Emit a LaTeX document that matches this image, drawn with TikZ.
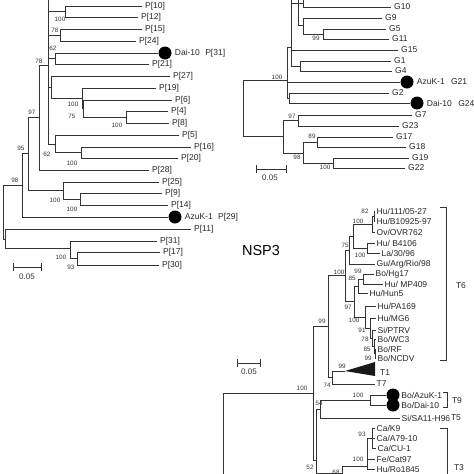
\documentclass[tikz,border=0pt]{standalone}
\usepackage{fontspec}
\setmainfont{Liberation Sans}
\usetikzlibrary{arrows,positioning}

\tikzset{
  br/.style={draw=black!80, line width=0.9pt},
  leaf/.style={anchor=west, inner sep=3pt, text=black!85, font=\fontsize{8.5}{9}\selectfont},
  nleaf/.style={leaf, inner sep=1.5pt},
  bs/.style={inner sep=0pt, text=black!80, font=\fontsize{6.3}{6.3}\selectfont},
  dot/.style={circle, fill=black, inner sep=0pt, minimum size=13pt},
  clade/.style={inner sep=0pt, text=black!85, font=\fontsize{8.5}{9}\selectfont},
  scalelbl/.style={inner sep=0pt, text=black!80, font=\fontsize{8}{8}\selectfont},
}

\begin{document}
\begin{tikzpicture}[x=1pt,y=-1pt]
\useasboundingbox (0,0) rectangle (474,474);

% VP4 tree (P types)
\coordinate (pRoot) at (3,212);
\coordinate (pC) at (5,239);
\coordinate (p95) at (22,185);
\coordinate (p97) at (28,153);
\coordinate (p78) at (39,117);
\coordinate (pA) at (48,65);
\coordinate (pAtop) at (48,0);
\coordinate (pB) at (51,87);
\coordinate (n100a) at (65,11);
\coordinate (n78a) at (60,35);
\coordinate (n62a) at (55,58);
\coordinate (n19) at (82,98);
\coordinate (n100b) at (83.5,108);
\coordinate (n100c) at (126,117);
\coordinate (n62b) at (55,144);
\coordinate (n100d) at (81,152);
\coordinate (n100e) at (63,190);
\coordinate (n100f) at (80,199);
\coordinate (n100g) at (70,248);
\coordinate (n93) at (77,258);

\node[leaf] (p10) at (142,6) {P[10]};
\node[leaf] (p12) at (138,17) {P[12]};
\node[leaf] (p15) at (142,29) {P[15]};
\node[leaf] (p24) at (136,41) {P[24]};
\node[dot] (dPdai) at (165,53) {};
\node[leaf, right=0pt of dPdai] (lPdai) {Dai-10\hspace{3pt} P[31]};
\node[leaf] (p21) at (149,64) {P[21]};
\node[leaf] (p27) at (170,76) {P[27]};
\node[leaf] (p19) at (156,88) {P[19]};
\node[leaf] (p6) at (172,100) {P[6]};
\node[leaf] (p4) at (168,111) {P[4]};
\node[leaf] (p8) at (169,123) {P[8]};
\node[leaf] (p5) at (179,135) {P[5]};
\node[leaf] (p16) at (191,147) {P[16]};
\node[leaf] (p20) at (178,158) {P[20]};
\node[leaf] (p28) at (149,170) {P[28]};
\node[leaf] (p25) at (159,182) {P[25]};
\node[leaf] (p9) at (162,193) {P[9]};
\node[leaf] (p14) at (168,205) {P[14]};
\node[dot] (dPazu) at (175,217) {};
\node[leaf, right=0pt of dPazu] (lPazu) {AzuK-1\hspace{3pt} P[29]};
\node[leaf] (p11) at (191,229) {P[11]};
\node[leaf] (p31) at (157,241) {P[31]};
\node[leaf] (p17) at (160,252) {P[17]};
\node[leaf] (p30) at (159,265) {P[30]};

\draw[br] (pRoot) |- (p95);
\draw[br] (pRoot) |- (pC);
\draw[br] (pC) |- (p11.west);
\draw[br] (pC) |- (n100g);
\draw[br] (n100g) |- (p31.west);
\draw[br] (n100g) |- (n93);
\draw[br] (n93) |- (p17.west);
\draw[br] (n93) |- (p30.west);
\draw[br] (p95) |- (p97);
\draw[br] (p95) |- (dPazu);
\draw[br] (p97) |- (p78);
\draw[br] (p97) |- (n100e);
\draw[br] (n100e) |- (p25.west);
\draw[br] (n100e) |- (n100f);
\draw[br] (n100f) |- (p9.west);
\draw[br] (n100f) |- (p14.west);
\draw[br] (p78) |- (pA);
\draw[br] (p78) |- (p28.west);
\draw[br] (pA) -- (pAtop);
\draw[br] (pA) |- (n100a);
\draw[br] (pA) |- (n78a);
\draw[br] (pA) |- (n62a);
\draw[br] (pA) |- (pB);
\draw[br] (pA) |- (n62b);
\draw[br] (n100a) |- (p10.west);
\draw[br] (n100a) |- (p12.west);
\draw[br] (n78a) |- (p15.west);
\draw[br] (n78a) |- (p24.west);
\draw[br] (n62a) |- (dPdai);
\draw[br] (n62a) |- (p21.west);
\draw[br] (pB) |- (p27.west);
\draw[br] (pB) |- (n19);
\draw[br] (n19) |- (p19.west);
\draw[br] (n19) |- (n100b);
\draw[br] (n100b) |- (p6.west);
\draw[br] (n100b) |- (n100c);
\draw[br] (n100c) |- (p4.west);
\draw[br] (n100c) |- (p8.west);
\draw[br] (n62b) |- (p5.west);
\draw[br] (n62b) |- (n100d);
\draw[br] (n100d) |- (p16.west);
\draw[br] (n100d) |- (p20.west);

\node[bs] (bP1) at (60,19) {100};
\node[bs] (bP2) at (55,30) {78};
\node[bs] (bP3) at (53,48) {62};
\node[bs] (bP4) at (39,61) {78};
\node[bs] (bP5) at (73,104) {100};
\node[bs] (bP6) at (72,116) {75};
\node[bs] (bP7) at (117,125) {100};
\node[bs] (bP8) at (32,112) {97};
\node[bs] (bP9) at (47,154) {62};
\node[bs] (bP10) at (72,163) {100};
\node[bs] (bP11) at (21,148) {95};
\node[bs] (bP12) at (15,180) {98};
\node[bs] (bP13) at (55,200) {100};
\node[bs] (bP14) at (72,209) {100};
\node[bs] (bP15) at (61,257) {100};
\node[bs] (bP16) at (71,267) {93};

\coordinate (sPa) at (13,267);
\coordinate (sPb) at (42,267);
\draw[br, |-|] (sPa) -- (sPb);
\node[scalelbl] (sPl) at (27,277) {0.05};

% VP7 tree (G types)
\coordinate (gRoot) at (243,108);
\coordinate (gE) at (287,80);
\coordinate (gA) at (291,47);
\coordinate (gAtop) at (291,0);
\coordinate (gB) at (298,3);
\coordinate (gBtop) at (298,0);
\coordinate (gD) at (303,3);
\coordinate (gDtop) at (303,0);
\coordinate (gC) at (303,25);
\coordinate (n99) at (323,34);
\coordinate (n14) at (300,66);
\coordinate (gF) at (289,98);
\coordinate (gL) at (283,136);
\coordinate (n97) at (298,120);
\coordinate (n98) at (303,153);
\coordinate (n89) at (317,142);
\coordinate (n100h) at (333,163);

\node[leaf] (g10) at (391,7) {G10};
\node[leaf] (g9) at (382,18) {G9};
\node[leaf] (g5) at (386,29) {G5};
\node[leaf] (g11) at (389,39) {G11};
\node[leaf] (g15) at (398,50) {G15};
\node[leaf] (g1) at (391,61) {G1};
\node[leaf] (g4) at (392,71) {G4};
\node[dot] (dGazu) at (407,82) {};
\node[leaf, right=0pt of dGazu] (lGazu) {AzuK-1\hspace{4pt} G21};
\node[leaf] (g2) at (389,93) {G2};
\node[dot] (dGdai) at (417,103) {};
\node[leaf, right=0pt of dGdai] (lGdai) {Dai-10\hspace{4pt} G24};
\node[leaf] (g7) at (412,115) {G7};
\node[leaf] (g23) at (399,126) {G23};
\node[leaf] (g17) at (393,137) {G17};
\node[leaf] (g18) at (406,147) {G18};
\node[leaf] (g19) at (409,158) {G19};
\node[leaf] (g22) at (405,168) {G22};

\draw[br] (gRoot) |- (gE);
\draw[br] (gRoot) |- (gL);
\draw[br] (gE) |- (gA);
\draw[br] (gE) |- (dGazu);
\draw[br] (gE) |- (gF);
\draw[br] (gA) -- (gAtop);
\draw[br] (gA) |- (gB);
\draw[br] (gA) |- (g15.west);
\draw[br] (gA) |- (n14);
\draw[br] (gB) -- (gBtop);
\draw[br] (gB) |- (gC);
\draw[br] (gB) -- (gD);
\draw[br] (gD) -- (gDtop);
\draw[br] (gD) |- (g10.west);
\draw[br] (gC) |- (g9.west);
\draw[br] (gC) |- (n99);
\draw[br] (n99) |- (g5.west);
\draw[br] (n99) |- (g11.west);
\draw[br] (n14) |- (g1.west);
\draw[br] (n14) |- (g4.west);
\draw[br] (gF) |- (g2.west);
\draw[br] (gF) |- (dGdai);
\draw[br] (gL) |- (n97);
\draw[br] (gL) |- (n98);
\draw[br] (n97) |- (g7.west);
\draw[br] (n97) |- (g23.west);
\draw[br] (n98) |- (n89);
\draw[br] (n98) |- (n100h);
\draw[br] (n89) |- (g17.west);
\draw[br] (n89) |- (g18.west);
\draw[br] (n100h) |- (g19.west);
\draw[br] (n100h) |- (g22.west);

\node[bs] (bG1) at (316,38) {99};
\node[bs] (bG2) at (277,77) {100};
\node[bs] (bG3) at (292,116) {97};
\node[bs] (bG4) at (312,136) {89};
\node[bs] (bG5) at (297,157) {98};
\node[bs] (bG6) at (325,167) {100};

\coordinate (sGa) at (256,169);
\coordinate (sGb) at (287,169);
\draw[br, |-|] (sGa) -- (sGb);
\node[scalelbl] (sGl) at (270,178) {0.05};

% NSP3 tree
\node[inner sep=0pt, font=\fontsize{14.5}{15}\selectfont] (nsp3) at (261,251) {NSP3};

\coordinate (tRoot) at (223,393);
\coordinate (tRootBot) at (223,474);
\coordinate (nO) at (313,393);
\coordinate (nM) at (328,326);
\coordinate (nR6) at (345,275);
\coordinate (nG) at (349,250);
\coordinate (nF) at (353,236);
\coordinate (nD) at (372,224);
\coordinate (nC) at (374,216);
\coordinate (nE) at (367,248);
\coordinate (nL) at (354,301);
\coordinate (nI) at (358,286);
\coordinate (nH) at (363,279);
\coordinate (nJ) at (365,317);
\coordinate (nK0) at (370,328);
\coordinate (nK1) at (372,338);
\coordinate (nK2) at (374,346);
\coordinate (nK3) at (375,353.5);
\coordinate (nN) at (332,377);
\coordinate (nP) at (316,460);
\coordinate (nQ) at (320,409);
\coordinate (nAD) at (370,400);
\coordinate (n68) at (342,473);
\coordinate (n68bot) at (342,474);
\coordinate (n100i) at (367,466);
\coordinate (nCa) at (372,438);

\node[nleaf] (t111) at (375,211) {Hu/111/05-27};
\node[nleaf] (tB109) at (375,221) {Hu/B10925-97};
\node[nleaf] (tOv) at (375,232) {Ov/OVR762};
\node[nleaf] (tB41) at (375,243) {Hu/ B4106};
\node[nleaf] (tLa) at (380,253) {La/30/96};
\node[nleaf] (tGu) at (375,264) {Gu/Arg/Rio/98};
\node[nleaf] (tHg) at (374,274) {Bo/Hg17};
\node[nleaf] (tMP) at (383,284) {Hu/ MP409};
\node[nleaf] (tHun) at (368,293) {Hu/Hun5};
\node[nleaf] (tPA) at (376,306) {Hu/PA169};
\node[nleaf] (tMG) at (376,318) {Hu/MG6};
\node[nleaf] (tPT) at (376,330) {Si/PTRV};
\node[nleaf] (tWC) at (376,339) {Bo/WC3};
\node[nleaf] (tRF) at (376,349) {Bo/RF};
\node[nleaf] (tNC) at (376,358) {Bo/NCDV};
\node[nleaf] (tT7) at (375,384) {T7};
\node[dot] (dTazu) at (393,395) {};
\node[nleaf, right=0pt of dTazu] (lTazu) {Bo/AzuK-1};
\node[dot] (dTdai) at (393,405) {};
\node[nleaf, right=0pt of dTdai] (lTdai) {Bo/Dai-10};
\node[nleaf] (tSA) at (400,418) {Si/SA11-H96};
\node[nleaf] (tK9) at (375,428) {Ca/K9};
\node[nleaf] (tA79) at (375,438) {Ca/A79-10};
\node[nleaf] (tCU) at (376,448) {Ca/CU-1};
\node[nleaf] (tFe) at (375,459) {Fe/Cat97};
\node[nleaf] (tRo) at (375,469) {Hu/Ro1845};

% collapsed T1 clade
\coordinate (t1a) at (345,371);
\coordinate (t1b) at (375,362);
\coordinate (t1c) at (375,376);
\fill[black!90] (t1a) -- (t1b) -- (t1c) -- cycle;
\node[clade, anchor=west] (lT1) at (380,373) {T1};

\draw[br] (tRoot) -- (tRootBot);
\draw[br] (tRoot) -- (nO);
\draw[br] (nO) |- (nM);
\draw[br] (nO) |- (nP);
\draw[br] (nM) |- (nR6);
\draw[br] (nM) |- (nN);
\draw[br] (nR6) |- (nG);
\draw[br] (nR6) |- (nL);
\draw[br] (nG) |- (nF);
\draw[br] (nG) |- (tGu.west);
\draw[br] (nF) |- (nD);
\draw[br] (nF) |- (nE);
\draw[br] (nD) |- (nC);
\draw[br] (nD) |- (tOv.west);
\draw[br] (nC) |- (t111.west);
\draw[br] (nC) |- (tB109.west);
\draw[br] (nE) |- (tB41.west);
\draw[br] (nE) |- (tLa.west);
\draw[br] (nL) |- (nI);
\draw[br] (nL) |- (nJ);
\draw[br] (nI) |- (nH);
\draw[br] (nI) |- (tHun.west);
\draw[br] (nH) |- (tHg.west);
\draw[br] (nH) |- (tMP.west);
\draw[br] (nJ) |- (tPA.west);
\draw[br] (nJ) |- (nK0);
\draw[br] (nK0) |- (tMG.west);
\draw[br] (nK0) |- (nK1);
\draw[br] (nK1) |- (tPT.west);
\draw[br] (nK1) |- (nK2);
\draw[br] (nK2) |- (tWC.west);
\draw[br] (nK2) |- (nK3);
\draw[br] (nK3) |- (tRF.west);
\draw[br] (nK3) |- (tNC.west);
\draw[br] (nN) |- (t1a);
\draw[br] (nN) |- (tT7.west);
\draw[br] (nP) |- (nQ);
\draw[br] (nP) |- (n68);
\draw[br] (nQ) |- (nAD);
\draw[br] (nQ) |- (tSA.west);
\draw[br] (nAD) |- (dTazu);
\draw[br] (nAD) |- (dTdai);
\draw[br] (n68) -- (n68bot);
\draw[br] (n68) |- (n100i);
\draw[br] (n100i) |- (nCa);
\draw[br] (n100i) |- (tFe.west);
\draw[br] (n100i) |- (tRo.west);
\draw[br] (nCa) |- (tK9.west);
\draw[br] (nCa) |- (tA79.west);
\draw[br] (nCa) |- (tCU.west);

\node[bs] (bT1) at (365,211) {82};
\node[bs] (bT2) at (358,221) {100};
\node[bs] (bT3) at (345,245) {75};
\node[bs] (bT4) at (360,255) {100};
\node[bs] (bT5) at (339,272) {100};
\node[bs] (bT6) at (358,271) {99};
\node[bs] (bT7) at (352,278) {85};
\node[bs] (bT8) at (348,307) {97};
\node[bs] (bT9) at (354,320) {100};
\node[bs] (bT10) at (362,330) {91};
\node[bs] (bT11) at (365,339) {78};
\node[bs] (bT12) at (367,349) {85};
\node[bs] (bT13) at (368,358) {99};
\node[bs] (bT14) at (322,321) {99};
\node[bs] (bT15) at (342,366) {99};
\node[bs] (bT16) at (327,385) {74};
\node[bs] (bT17) at (302,388) {100};
\node[bs] (bT18) at (319,403) {54};
\node[bs] (bT19) at (358,395) {100};
\node[bs] (bT20) at (362,434) {93};
\node[bs] (bT21) at (358,459) {100};
\node[bs] (bT22) at (336,472) {68};
\node[bs] (bT23) at (310,467) {52};

% genotype brackets
\draw[br] (440,207) -| (446,360) -- (440,360);
\node[clade] (lT6) at (461,286) {T6};
\draw[br] (443,392) -| (447,407) -- (443,407);
\node[clade] (lT9) at (457,401) {T9};
\node[clade] (lT5) at (456,418) {T5};
\draw[br] (440,428) -| (447,474);
\node[clade] (lT3) at (459,468) {T3};

\coordinate (sTa) at (237,363);
\coordinate (sTb) at (261,363);
\draw[br, |-|] (sTa) -- (sTb);
\node[scalelbl] (sTl) at (249,372) {0.05};

\end{tikzpicture}
\end{document}
